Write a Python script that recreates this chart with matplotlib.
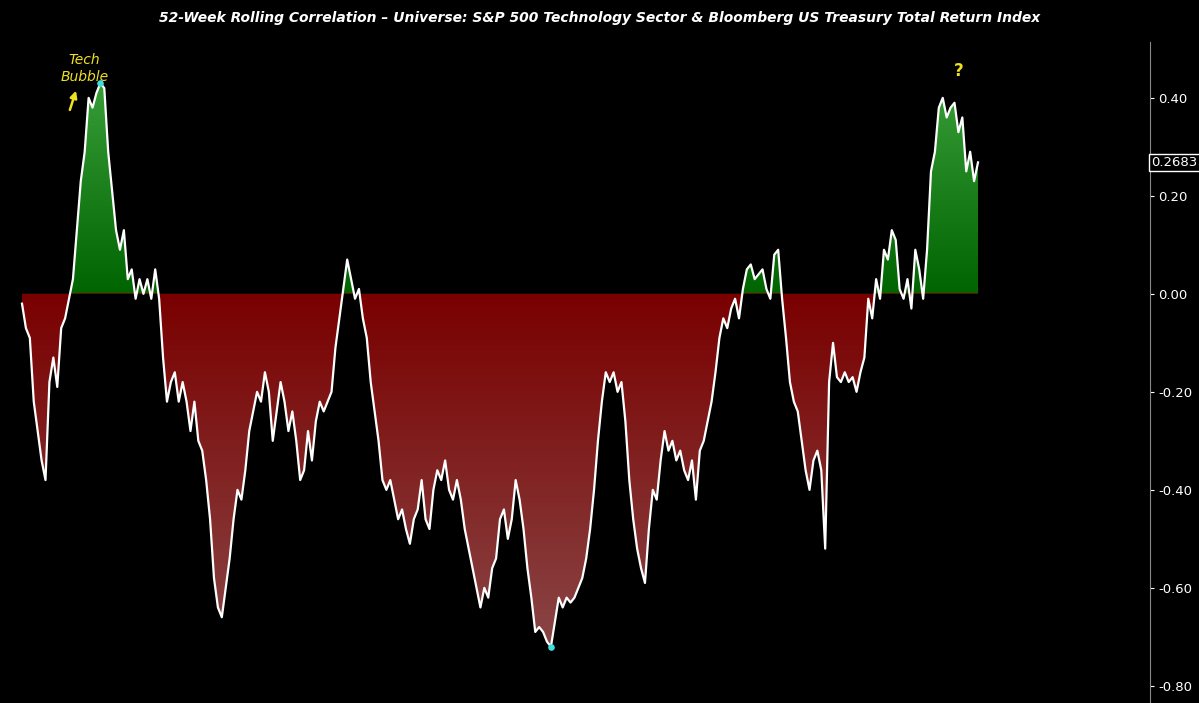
import numpy as np
import matplotlib
matplotlib.use("Agg")
import matplotlib.pyplot as plt
from matplotlib.colors import LinearSegmentedColormap

# weekly 52w rolling correlation
corr = [-0.02, -0.07, -0.09, -0.22, -0.28, -0.34, -0.38, -0.18, -0.13, -0.19, -0.07, -0.05, -0.01, 0.03,
        0.13, 0.23, 0.29, 0.40, 0.38, 0.41, 0.43, 0.42, 0.29, 0.21, 0.13, 0.09, 0.13, 0.03, 0.05, -0.01,
        0.03, 0.00, 0.03, -0.01, 0.05, -0.01, -0.13, -0.22, -0.18, -0.16, -0.22, -0.18, -0.22, -0.28,
        -0.22, -0.30, -0.32, -0.38, -0.46, -0.58, -0.64, -0.66, -0.60, -0.54, -0.46, -0.40, -0.42, -0.36,
        -0.28, -0.24, -0.20, -0.22, -0.16, -0.20, -0.30, -0.24, -0.18, -0.22, -0.28, -0.24, -0.30, -0.38,
        -0.36, -0.28, -0.34, -0.26, -0.22, -0.24, -0.22, -0.20, -0.11, -0.05, 0.01, 0.07, 0.03, -0.01,
        0.01, -0.05, -0.09, -0.18, -0.24, -0.30, -0.38, -0.40, -0.38, -0.42, -0.46, -0.44, -0.48, -0.51,
        -0.46, -0.44, -0.38, -0.46, -0.48, -0.40, -0.36, -0.38, -0.34, -0.40, -0.42, -0.38, -0.42, -0.48,
        -0.52, -0.56, -0.60, -0.64, -0.60, -0.62, -0.56, -0.54, -0.46, -0.44, -0.50, -0.46, -0.38, -0.42,
        -0.48, -0.56, -0.62, -0.69, -0.68, -0.69, -0.71, -0.72, -0.67, -0.62, -0.64, -0.62, -0.63, -0.62,
        -0.60, -0.58, -0.54, -0.48, -0.40, -0.30, -0.22, -0.16, -0.18, -0.16, -0.20, -0.18, -0.26, -0.38,
        -0.46, -0.52, -0.56, -0.59, -0.48, -0.40, -0.42, -0.34, -0.28, -0.32, -0.30, -0.34, -0.32, -0.36,
        -0.38, -0.34, -0.42, -0.32, -0.30, -0.26, -0.22, -0.16, -0.09, -0.05, -0.07, -0.03, -0.01, -0.05,
        0.01, 0.05, 0.06, 0.03, 0.04, 0.05, 0.01, -0.01, 0.08, 0.09, -0.01, -0.09, -0.18, -0.22, -0.24,
        -0.30, -0.36, -0.40, -0.34, -0.32, -0.36, -0.52, -0.18, -0.10, -0.17, -0.18, -0.16, -0.18, -0.17,
        -0.20, -0.16, -0.13, -0.01, -0.05, 0.03, -0.01, 0.09, 0.07, 0.13, 0.11, 0.01, -0.01, 0.03, -0.03,
        0.09, 0.05, -0.01, 0.09, 0.25, 0.29, 0.38, 0.40, 0.36, 0.38, 0.39, 0.33, 0.36, 0.25, 0.29, 0.23,
        0.2683]
yticks = [0.40, 0.20, 0.00, -0.20, -0.40, -0.60, -0.80]

y = np.array(corr)
x = np.arange(len(y))
n = len(y) - 1

fig = plt.figure(figsize=(11.99, 7.03), dpi=100, facecolor="black")
ax = fig.add_axes([0, 0, 1150 / 1199, 661 / 703], facecolor="black")
x0 = -22 / 956 * n
x1 = (1150 - 22) / 956 * n
ax.set_xlim(x0, x1)
ax.set_ylim(-0.835, 0.514)

# gradient fills clipped by the area polygon
greens = LinearSegmentedColormap.from_list("g", ["#006400", "#3aa03a"])
reds = LinearSegmentedColormap.from_list("r", ["#7a0000", "#8a4848"])
area = ax.fill_between(x, 0, y, color="none", lw=0)
clip = area.get_paths()[0]
grad = np.linspace(0, 1, 256).reshape(-1, 1)
im1 = ax.imshow(grad, cmap=greens, origin="lower", aspect="auto", extent=[0, n, 0, 0.45], zorder=1)
im1.set_clip_path(clip, transform=ax.transData)
im2 = ax.imshow(grad[::-1], cmap=reds, origin="lower", aspect="auto", extent=[0, n, -0.75, 0], zorder=1)
im2.set_clip_path(clip, transform=ax.transData)
ax.plot(x, y, color="white", lw=1.6, zorder=3)

imax, imin = int(np.argmax(y)), int(np.argmin(y))
ax.scatter([imax, imin], [y[imax], y[imin]], color="#40e0e0", s=14, zorder=4)

ax.yaxis.tick_right()
ax.set_yticks(yticks)
ax.set_yticklabels([f"{v:.2f}" for v in yticks], color="white", fontsize=9.5)
ax.tick_params(axis="y", colors="white", length=3, pad=3)
ax.set_xticks([])
for s in ["top", "bottom", "left"]:
    ax.spines[s].set_visible(False)
ax.spines["right"].set_color("#888888")

ax.text(x1 + 0.3, y[-1], f"{y[-1]:.4f}", color="white", fontsize=9.5, va="center", ha="left",
        bbox=dict(facecolor="black", edgecolor="white", pad=1.5), zorder=5)

ax.text(imax - 4, 0.46, "Tech\nBubble", color="#f0e020", fontsize=10, style="italic", ha="center",
        va="center")
ax.annotate("", xy=(imax - 6, 0.42), xytext=(imax - 8, 0.37),
            arrowprops=dict(arrowstyle="-|>", color="#f0e020", lw=1.8))
ax.text(x[-1] - 5, 0.445, "?", color="#f0e020", fontsize=12, fontweight="bold", ha="center")

fig.text(0.5, 0.975, "52-Week Rolling Correlation \u2013 Universe: S&P 500 Technology Sector & Bloomberg US Treasury Total Return Index",
         color="white", fontsize=10, fontweight="bold", style="italic", ha="center", va="center")
fig.savefig("out.png", dpi=100, facecolor="black")
